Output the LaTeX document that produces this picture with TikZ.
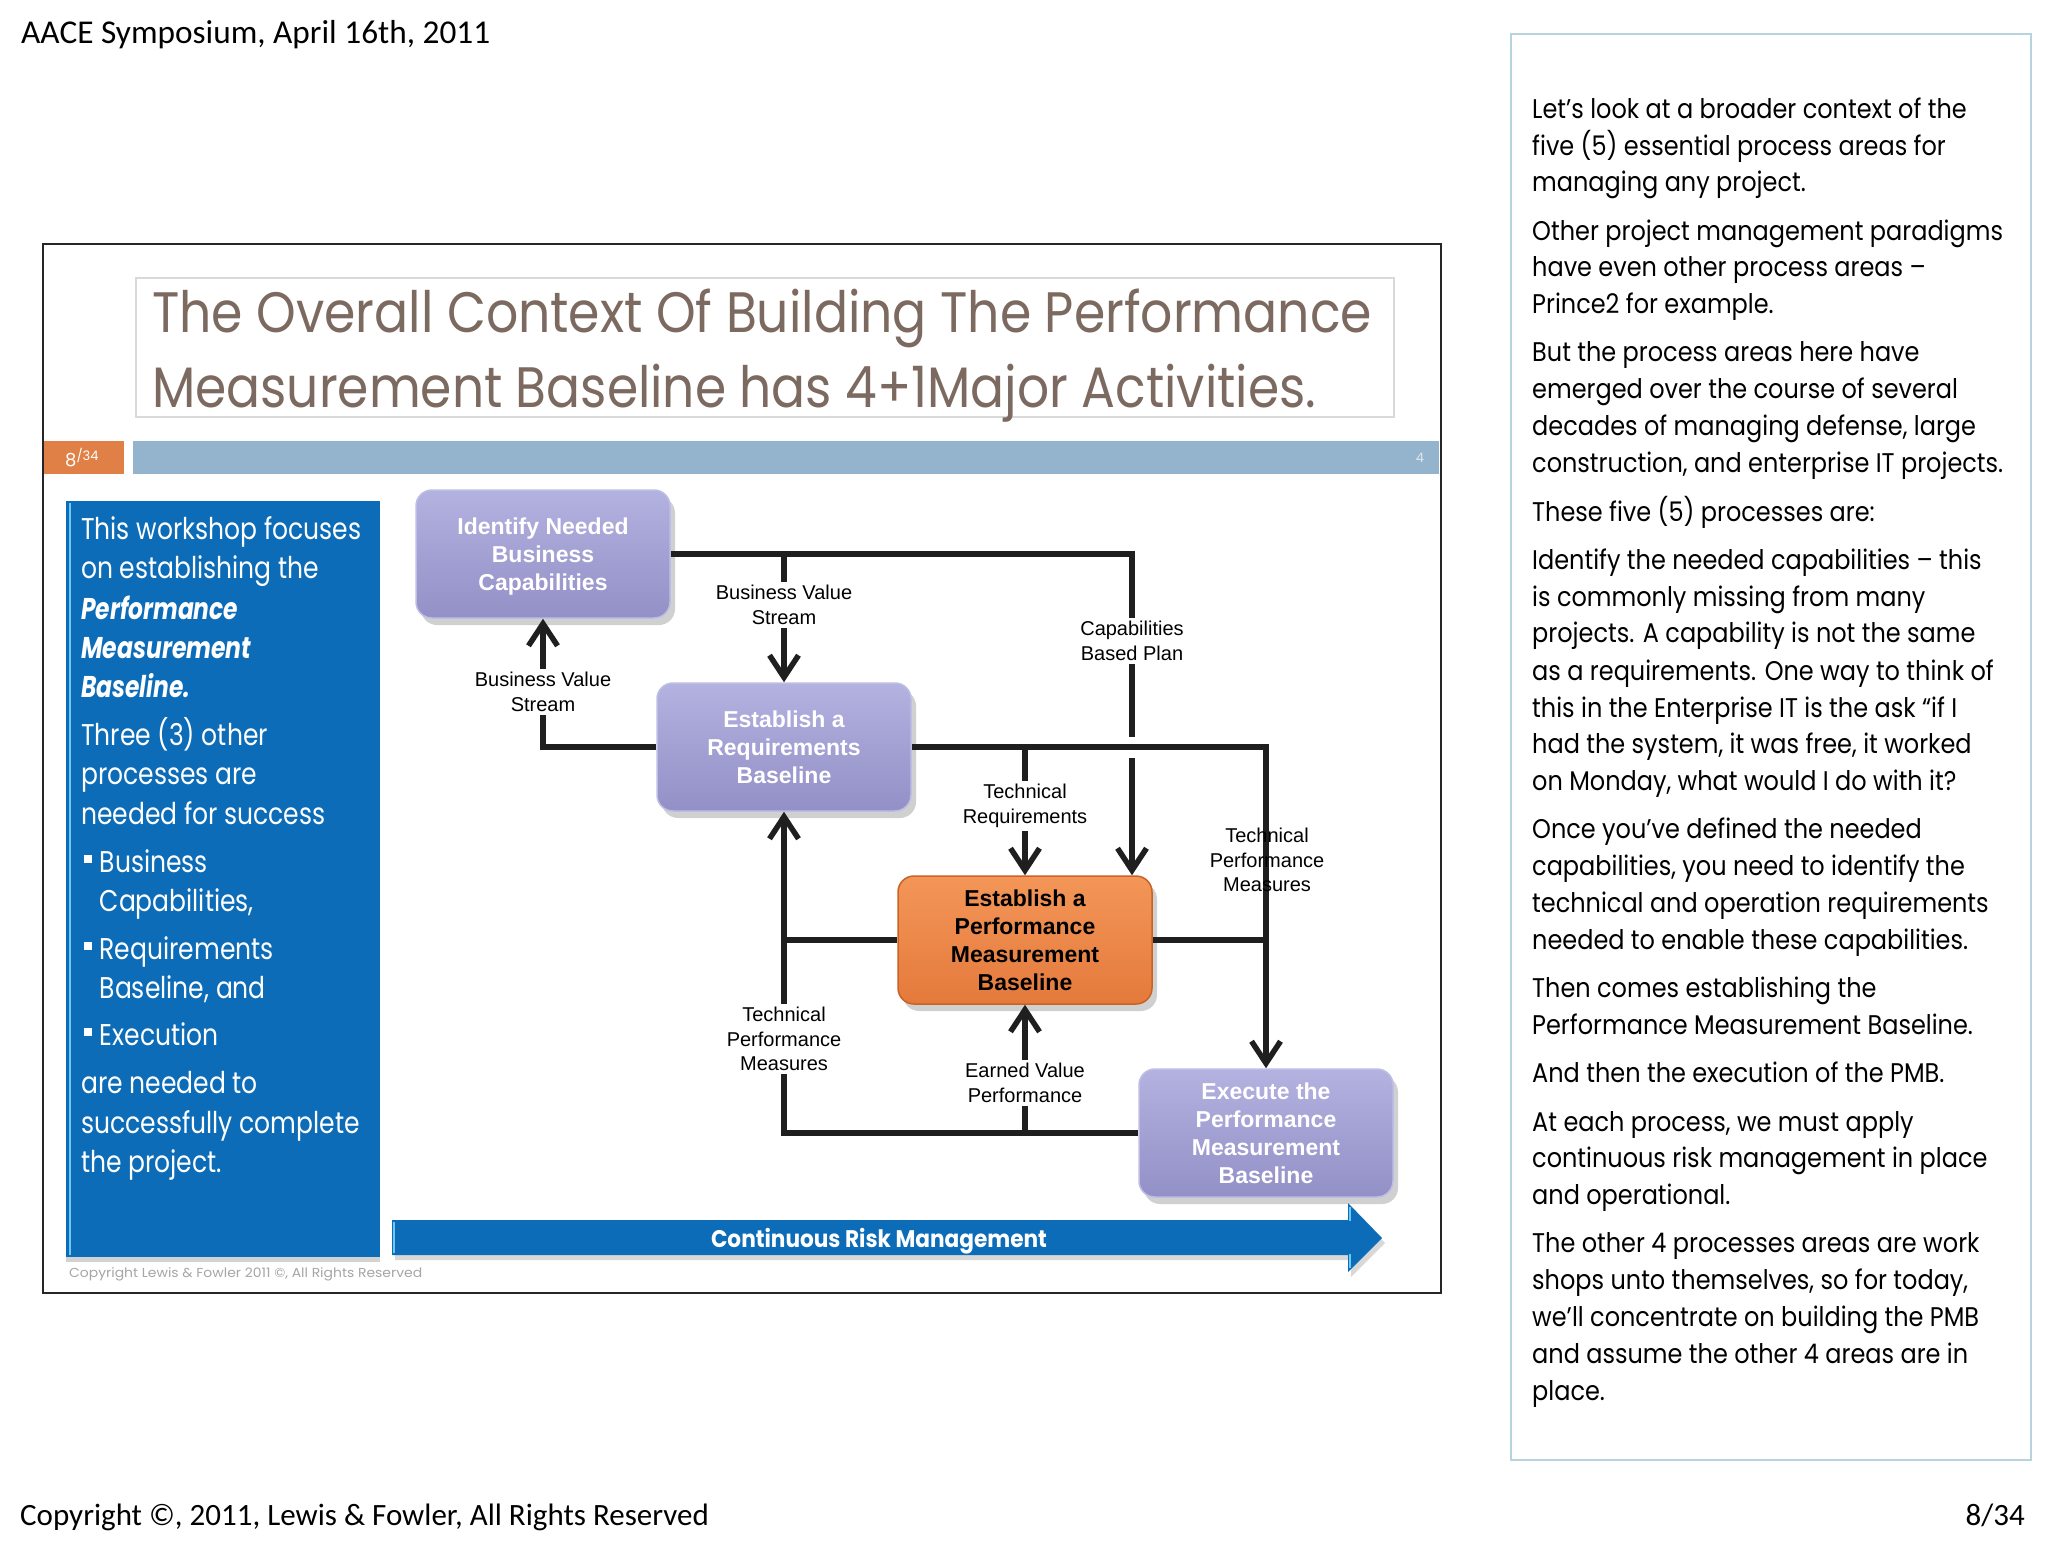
\documentclass[tikz,border=0pt]{standalone}
\usepackage{fontspec}
\usepackage{graphicx}
\setmainfont{Liberation Sans}
\newfontfamily\calfont{Carlito}
\newfontfamily\futfont{Poppins}
\usetikzlibrary{arrows.meta,shadows}
\definecolor{slideblue}{RGB}{12,108,184}
\definecolor{barblue}{RGB}{148,179,205}
\definecolor{numorange}{RGB}{225,128,70}
\definecolor{titlebrown}{RGB}{124,106,96}
\definecolor{ptop}{RGB}{180,178,224}
\definecolor{pbot}{RGB}{146,144,198}
\definecolor{pedge}{RGB}{190,189,230}
\definecolor{otop}{RGB}{243,150,88}
\definecolor{obot}{RGB}{228,122,60}
\definecolor{oedge}{RGB}{200,98,38}
\definecolor{notesedge}{RGB}{183,211,222}
\definecolor{cyanedge}{RGB}{110,200,245}
\newsavebox\measbox
\newlength\measlen
\newcommand\calcfac[3]{\sbox\measbox{#3}\setlength\measlen{\wd\measbox}\pgfmathsetmacro#1{#2/\measlen}\global\let#1#1}
\newcommand\fitw[2]{\calcfac\fitfac{#1}{#2}\scalebox{\fitfac}[1]{#2}}
\newcommand\sx[2]{\scalebox{#1}[1]{#2}}
\begin{document}
\calcfac\notefac{471}{\futfont\fontsize{27}{30}\selectfont construction, and enterprise IT projects.}%
\calcfac\lpfac{280}{\futfont\fontsize{30}{36}\selectfont This workshop focuses}%
\begin{tikzpicture}[x=1pt,y=-1pt,
  conn/.style={line width=5.5pt, draw=black!88, line join=miter},
  arr/.style={conn, -{Straight Barb[length=22pt,width=29pt,line width=5.5pt]}},
  lab/.style={font=\fontsize{20}{24.5}\selectfont, align=center, inner sep=3pt, fill=white, text=black},
  labnf/.style={lab, fill=none},
  pbox/.style={rectangle, rounded corners=16pt, minimum width=254pt, minimum height=128pt, inner sep=0pt,
    draw=pedge, line width=1.5pt, top color=ptop, bottom color=pbot, text=white, align=center,
    text depth=0pt, font=\fontsize{23}{28}\selectfont\bfseries,
    drop shadow={shadow xshift=5pt, shadow yshift=-7pt, opacity=.3, fill=black!60}},
  obox/.style={pbox, top color=otop, bottom color=obot, draw=oedge, text=black},
  lp/.style={anchor=base west, inner sep=0pt, text=white, font=\futfont\fontsize{30}{36}\selectfont},
  np/.style={anchor=base west, inner sep=0pt, text=black, font=\futfont\fontsize{27}{30}\selectfont},
]
\useasboundingbox (0,0) rectangle (2048,1545);
\fill[white] (0,0) rectangle (2048,1545);

% page header / footer
\node[anchor=base west, inner sep=0pt, font=\calfont\fontsize{33.3}{40}\selectfont] (hdr) at (21,43) {AACE Symposium, April 16th, 2011};
\node[anchor=base west, inner sep=0pt, font=\calfont\fontsize{31}{37}\selectfont] (copy) at (20,1525) {Copyright ©, 2011, Lewis \& Fowler, All Rights Reserved};
\node[anchor=base east, inner sep=0pt, font=\calfont\fontsize{31}{37}\selectfont] (pg) at (2025,1525) {8/34};

% slide frame
\draw[line width=2.5pt, black!85] (43,244) rectangle (1441,1293);

% title
\draw[black!15, line width=1.5pt, fill=white] (136,278) rectangle (1394,417);
\node[anchor=base west, inner sep=0pt, text=titlebrown, font=\futfont\fontsize{57}{60}\selectfont] (t1) at (152,332) {\fitw{1220}{The Overall Context Of Building The Performance}};
\node[anchor=base west, inner sep=0pt, text=titlebrown, font=\futfont\fontsize{57}{60}\selectfont] (t2) at (152,407) {\fitw{1164}{Measurement Baseline has 4+1Major Activities.}};

% number box and bar
\fill[numorange] (44,441) rectangle (124,474);
\node[anchor=base west, inner sep=0pt, text=white, font=\futfont\fontsize{18}{20}\selectfont] (num) at (65,466) {8\raisebox{6pt}{\fontsize{13}{14}\selectfont/34}};
\fill[barblue] (133,441) rectangle (1439,474);
\node[inner sep=0pt, text=white!70!barblue, font=\futfont\fontsize{13}{15}\selectfont] (barnum) at (1420,458) {4};

% left panel
\fill[slideblue, drop shadow={shadow xshift=0pt, shadow yshift=-5pt, opacity=.35}] (66,501) rectangle (380,1257);
\draw[cyanedge, line width=2pt] (70,503) -- (70,1255);
\node[lp] (lp1) at (81,539) {\sx\lpfac{This workshop focuses}};
\node[lp] (lp2) at (81,578) {\sx\lpfac{on establishing the}};
\node[lp] (lp3) at (81,619) {\fitw{157}{\bfseries\itshape Performance}};
\node[lp] (lp4) at (81,658) {\fitw{170}{\bfseries\itshape Measurement}};
\node[lp] (lp5) at (81,697) {\fitw{109}{\bfseries\itshape Baseline.}};
\node[lp] (lp6) at (81,745) {\sx\lpfac{Three (3) other}};
\node[lp] (lp7) at (81,784) {\sx\lpfac{processes are}};
\node[lp] (lp8) at (81,824) {\sx\lpfac{needed for success}};
\fill[white] (84,855) rectangle (92,863);
\node[lp] (lp9) at (99.5,872) {\sx\lpfac{Business}};
\node[lp] (lp10) at (99.5,911) {\sx\lpfac{Capabilities,}};
\fill[white] (84,942) rectangle (92,950);
\node[lp] (lp11) at (99.5,959) {\sx\lpfac{Requirements}};
\node[lp] (lp12) at (99.5,998) {\sx\lpfac{Baseline, and}};
\fill[white] (84,1028) rectangle (92,1036);
\node[lp] (lp13) at (99.5,1045) {\sx\lpfac{Execution}};
\node[lp] (lp14) at (81,1093) {\sx\lpfac{are needed to}};
\node[lp] (lp15) at (81,1133) {\sx\lpfac{successfully complete}};
\node[lp] (lp16) at (81,1172) {\sx\lpfac{the project.}};
\node[anchor=base west, inner sep=0pt, text=black!35, font=\futfont\fontsize{13}{15}\selectfont] (slcopy) at (69,1277) {\fitw{353}{Copyright Lewis \& Fowler 2011 ©, All Rights Reserved}};

% continuous risk management arrow
\fill[slideblue, drop shadow={shadow xshift=3pt, shadow yshift=-5pt, opacity=.3}] (392,1220) -- (1348,1220) -- (1348,1203) -- (1382,1238) -- (1348,1272) -- (1348,1255) -- (392,1255) -- cycle;
\draw[cyanedge, line width=1.5pt] (394,1222) -- (394,1253);
\draw[cyanedge, line width=1.5pt] (1350,1207) -- (1350,1221);
\draw[cyanedge, line width=1.5pt] (1350,1254) -- (1350,1268);
\node[anchor=base, inner sep=0pt, text=white, font=\futfont\bfseries\fontsize{24}{28}\selectfont] (crm) at (879,1247) {\fitw{336}{Continuous Risk Management}};

% process boxes
\node[pbox] (b1) at (543,554) {Identify Needed\\Business\\Capabilities};
\node[pbox] (b2) at (784,747) {Establish a\\Requirements\\Baseline};
\node[obox] (b3) at (1025,940) {Establish a\\Performance\\Measurement\\Baseline};
\node[pbox] (b4) at (1266,1133) {Execute the\\Performance\\Measurement\\Baseline};

% connector coordinates
\coordinate (cap1) at (1132,554);
\coordinate (capA) at (1132,737);
\coordinate (capB) at (1132,758);
\coordinate (bv1) at (b2.north |- b1.east);
\coordinate (tr1) at (b3.north |- b2.east);
\coordinate (ev1) at (b3.south |- b4.west);

% connectors
\draw[conn] (b1.east) -- (cap1) -- (capA);
\draw[arr] (capB) -- (b3.north -| capB);
\draw[arr] (bv1) -- (b2.north);
\draw[arr] (b2.west) -| (b1.south);
\draw[arr] (b2.east) -| (b4.north);
\draw[arr] (tr1) -- (b3.north);
\draw[conn] (b3.east) -- (b3.east -| b4.north);
\draw[conn] (b3.west) -- (b3.west -| b2.south);
\draw[arr] (b4.west) -| (b2.south);
\draw[arr] (ev1) -- (b3.south);

% connector labels
\node[lab] (l1) at (784,605) {Business Value\\Stream};
\node[lab] (l2) at (543,692) {Business Value\\Stream};
\node[lab] (l3) at (1132,641) {Capabilities\\Based Plan};
\node[lab] (l4) at (1025,806) {Technical\\Requirements};
\node[labnf] (l5) at (1267,860) {Technical\\Performance\\Measures};
\node[lab] (l6) at (784,1039) {Technical\\Performance\\Measures};
\node[lab] (l7) at (1025,1083) {Earned Value\\Performance};

% notes panel
\draw[notesedge, line width=2pt] (1511,34) rectangle (2031,1460);
\node[np] (n1) at (1532,118) {\sx\notefac{Let’s look at a broader context of the}};
\node[np] (n2) at (1532,155) {\sx\notefac{five (5) essential process areas for}};
\node[np] (n3) at (1532,191) {\sx\notefac{managing any project.}};
\node[np] (n4) at (1532,240) {\sx\notefac{Other project management paradigms}};
\node[np] (n5) at (1532,276) {\sx\notefac{have even other process areas –}};
\node[np] (n6) at (1532,313) {\sx\notefac{Prince2 for example.}};
\node[np] (n7) at (1532,361) {\sx\notefac{But the process areas here have}};
\node[np] (n8) at (1532,398) {\sx\notefac{emerged over the course of several}};
\node[np] (n9) at (1532,435) {\sx\notefac{decades of managing defense, large}};
\node[np] (n10) at (1532,472) {\sx\notefac{construction, and enterprise IT projects.}};
\node[np] (n11) at (1532,521) {\sx\notefac{These five (5) processes are:}};
\node[np] (n12) at (1532,569) {\sx\notefac{Identify the needed capabilities – this}};
\node[np] (n13) at (1532,606) {\sx\notefac{is commonly missing from many}};
\node[np] (n14) at (1532,642) {\sx\notefac{projects. A capability is not the same}};
\node[np] (n15) at (1532,680) {\sx\notefac{as a requirements. One way to think of}};
\node[np] (n16) at (1532,717) {\sx\notefac{this in the Enterprise IT is the ask “if I}};
\node[np] (n17) at (1532,753) {\sx\notefac{had the system, it was free, it worked}};
\node[np] (n18) at (1532,790) {\sx\notefac{on Monday, what would I do with it?}};
\node[np] (n19) at (1532,838) {\sx\notefac{Once you’ve defined the needed}};
\node[np] (n20) at (1532,875) {\sx\notefac{capabilities, you need to identify the}};
\node[np] (n21) at (1532,912) {\sx\notefac{technical and operation requirements}};
\node[np] (n22) at (1532,949) {\sx\notefac{needed to enable these capabilities.}};
\node[np] (n23) at (1532,997) {\sx\notefac{Then comes establishing the}};
\node[np] (n24) at (1532,1034) {\sx\notefac{Performance Measurement Baseline.}};
\node[np] (n25) at (1532,1082) {\sx\notefac{And then the execution of the PMB.}};
\node[np] (n26) at (1532,1131) {\sx\notefac{At each process, we must apply}};
\node[np] (n27) at (1532,1167) {\sx\notefac{continuous risk management in place}};
\node[np] (n28) at (1532,1204) {\sx\notefac{and operational.}};
\node[np] (n29) at (1532,1252) {\sx\notefac{The other 4 processes areas are work}};
\node[np] (n30) at (1532,1289) {\sx\notefac{shops unto themselves, so for today,}};
\node[np] (n31) at (1532,1326) {\sx\notefac{we’ll concentrate on building the PMB}};
\node[np] (n32) at (1532,1363) {\sx\notefac{and assume the other 4 areas are in}};
\node[np] (n33) at (1532,1400) {\sx\notefac{place.}};
\end{tikzpicture}
\end{document}
